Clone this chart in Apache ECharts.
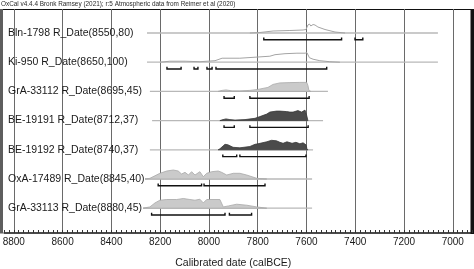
<!DOCTYPE html>
<html lang="en">
<head>
<meta charset="UTF-8">
<title>OxCal multiplot</title>
<script src="https://cdn.jsdelivr.net/npm/echarts@6/dist/echarts.min.js"></script>
<style>html,body{margin:0;padding:0;background:#fff;}</style>
</head>
<body>
<div id="chart" style="width:474px;height:269px;"></div>
<script>
// sample labels, top to bottom
var labels = [
    'Bln-1798 R_Date(8550,80)',
    'Ki-950 R_Date(8650,100)',
    'GrA-33112 R_Date(8695,45)',
    'BE-19191 R_Date(8712,37)',
    'BE-19192 R_Date(8740,37)',
    'OxA-17489 R_Date(8845,40)',
    'GrA-33113 R_Date(8880,45)'
];

// calibrated distributions: [calBCE, relative probability]
var bln1798 = [[7832,0],[7791,0.05],[7737,0.2],[7668,0.25],[7614,0.3],[7602,0.35],[7594,0.8],[7588,0.9],[7582,0.7],[7573,0.85],[7565,0.8],[7553,0.6],[7524,0.35],[7483,0.1],[7442,0]];
var ki950 = [[8201,0],[8160,0.1],[8098,0.1],[8037,0.05],[7975,0.15],[7946,0.4],[7873,0.4],[7811,0.5],[7750,0.6],[7729,0.75],[7688,0.85],[7639,0.9],[7606,0.9],[7598,0.95],[7588,0.45],[7573,0.3],[7545,0.15],[7504,0.05],[7463,0]];
var gra33112 = [[7962,0],[7946,0.1],[7930,0.15],[7905,0.05],[7873,0.05],[7832,0.1],[7799,0.2],[7758,0.4],[7737,0.7],[7709,0.85],[7668,0.88],[7627,0.9],[7599,0.9],[7594,0.6],[7590,0.1],[7582,0]];
var be19191 = [[7955,0],[7942,0.1],[7930,0.17],[7914,0.1],[7893,0.05],[7852,0.1],[7811,0.23],[7791,0.4],[7763,0.65],[7750,0.85],[7723,0.95],[7709,0.95],[7681,0.9],[7668,0.85],[7655,0.85],[7635,1.0],[7620,0.85],[7606,1.05],[7599,0.5],[7594,0]];
var be19192 = [[7962,0],[7955,0.1],[7934,0.55],[7922,0.5],[7901,0.25],[7873,0.2],[7832,0.33],[7811,0.55],[7799,0.6],[7763,0.8],[7743,0.95],[7723,0.9],[7709,0.75],[7696,0.65],[7680,0.8],[7659,0.65],[7643,0.75],[7627,0.6],[7614,0.7],[7602,0.5],[7598,0.1],[7594,0]];
var oxa17489 = [[8262,0],[8242,0.07],[8201,0.57],[8173,0.8],[8146,0.9],[8126,0.8],[8112,0.5],[8098,0.67],[8084,0.4],[8071,0.73],[8057,0.4],[8037,0.73],[8023,0.23],[8009,0.57],[7989,0.73],[7962,0.8],[7948,0.67],[7927,0.4],[7900,0.57],[7873,0.57],[7845,0.4],[7804,0.07],[7763,0]];
var gra33113 = [[8270,0],[8242,0.13],[8221,0.53],[8201,0.8],[8173,0.87],[8132,0.87],[8105,0.97],[8078,0.87],[8057,0.8],[8037,0.9],[8023,0.53],[8009,0.87],[7975,0.87],[7955,0.87],[7941,0.13],[7920,0.23],[7886,0.4],[7845,0.3],[7804,0.13],[7763,0]];
var curves = [bln1798, ki950, gra33112, be19191, be19192, oxa17489, gra33113];

// extent of the grey base line of each row
var spans = [[8254,7061],[8254,7061],[8242,7512],[8233,7532],[8242,7573],[8262,7577],[8270,7577]];

// 95.4% ranges under each row
var ranges = [
    [[7775,7456],[7401,7369]],
    [[8172,8114],[8061,8045],[8008,7987],[7971,7517]],
    [[7938,7896],[7832,7589]],
    [[7938,7896],[7832,7593]],
    [[7943,7886],[7873,7602]],
    [[8208,8030],[8020,7770]],
    [[8235,7934],[7916,7825]]
];

// axis
var xMin = 7000, xMax = 8800, xStep = 200, xMinor = 20;

var fills = [null, null, '#cacaca', '#4b4b4b', '#4b4b4b', '#cacaca', '#cacaca'];
var edges = [null, null, '#a8a8a8', '#3a3a3a', '#3a3a3a', '#a8a8a8', '#a8a8a8'];
var K = 0.3425;      // height of prob 1.0 in row units
var BR = 0.233;      // bracket offset below the base line

var pxPerYear = 439 / (xMax - xMin);
var tickMin = 6920, tickMax = 8840;

var rowData = labels.map(function (l, i) { return [spans[i][0], i]; });
var rangeData = [];
ranges.forEach(function (r, i) {
    r.forEach(function (s) { rangeData.push([s[0], s[1], i]); });
});

function renderRow(params, api) {
    var i = params.dataIndex;
    var a = api.coord([spans[i][0], i]);
    var b = api.coord([spans[i][1], i]);
    var pts = curves[i].map(function (p) { return api.coord([p[0], i - p[1] * K]); });
    var kids = [];
    kids.push({
        type: 'line',
        shape: {x1: a[0], y1: a[1], x2: b[0], y2: b[1]},
        style: {stroke: '#b8b8b8', lineWidth: 1.3}
    });
    if (fills[i]) {
        kids.push({type: 'polygon', shape: {points: pts},
            style: {fill: fills[i], stroke: edges[i], lineWidth: 0.8}});
    } else {
        kids.push({type: 'polyline', shape: {points: pts},
            style: {fill: null, stroke: '#a4a4a4', lineWidth: 1}});
    }
    kids.push({
        type: 'text',
        style: {x: 8, y: a[1], text: labels[i], fill: '#1a1a1a',
            font: '10.5px "Liberation Sans", Arial, sans-serif',
            verticalAlign: 'middle', align: 'left'}
    });
    return {type: 'group', children: kids};
}

function renderRange(params, api) {
    var a = api.coord([api.value(0), api.value(2) + BR]);
    var b = api.coord([api.value(1), api.value(2) + BR]);
    return {
        type: 'polyline',
        shape: {points: [[a[0], a[1] - 2.2], [a[0], a[1]], [b[0], b[1]], [b[0], b[1] - 2.2]]},
        style: {stroke: '#111', lineWidth: 1.4, fill: null}
    };
}

var chart = echarts.init(document.getElementById('chart'));
chart.setOption({
    animation: false,
    graphic: [
        {type: 'text', left: 1, top: 1, style: {text: 'OxCal v4.4.4 Bronk Ramsey (2021); r:5 Atmospheric data from Reimer et al (2020)',
            fill: '#2a2a2a', font: '6.4px "Liberation Sans", Arial, sans-serif'}},
        {type: 'line', shape: {x1: 0, y1: 9.5, x2: 474, y2: 9.5}, style: {stroke: '#111', lineWidth: 1}},
        {type: 'rect', shape: {x: 0, y: 9, width: 3, height: 224.5}, style: {fill: '#5e5e5e'}},
        {type: 'rect', shape: {x: 470.5, y: 9, width: 3.5, height: 225}, style: {fill: '#111'}}
    ],
    grid: [
        {left: 13.8 - (tickMax - xMax) * pxPerYear, width: (tickMax - tickMin) * pxPerYear, top: 9, height: 224, outerBoundsMode: 'none'},
        {left: 13.8, width: 439, top: 9, height: 224, outerBoundsMode: 'none'}
    ],
    xAxis: [
        {
            gridIndex: 0, type: 'value', inverse: true,
            min: tickMin, max: tickMax, interval: xMinor,
            axisLine: {show: true, lineStyle: {color: '#111', width: 1.5}},
            axisTick: {show: true, inside: true, length: 3, lineStyle: {color: '#333', width: 1}},
            axisLabel: {show: false},
            splitLine: {show: false}
        },
        {
            gridIndex: 1, type: 'value', inverse: true,
            min: xMin, max: xMax, interval: xStep,
            name: 'Calibrated date (calBCE)', nameLocation: 'middle', nameGap: 25,
            nameTextStyle: {color: '#1a1a1a', fontSize: 10.5, fontFamily: '"Liberation Sans", Arial, sans-serif'},
            axisLine: {show: false},
            axisTick: {show: false},
            axisLabel: {color: '#1a1a1a', fontSize: 10, margin: 4, fontFamily: '"Liberation Sans", Arial, sans-serif',
                formatter: function (v) { return String(v); }},
            splitLine: {show: true, lineStyle: {color: '#6a6a6a', width: 1}}
        }
    ],
    yAxis: [
        {gridIndex: 0, type: 'value', min: 0, max: 1, show: false},
        {gridIndex: 1, type: 'value', inverse: true, min: -0.822, max: 6.849, show: false}
    ],
    series: [
        {type: 'custom', xAxisIndex: 1, yAxisIndex: 1, clip: false, data: rowData, renderItem: renderRow, silent: true},
        {type: 'custom', xAxisIndex: 1, yAxisIndex: 1, clip: false, data: rangeData, renderItem: renderRange, silent: true,
            encode: {x: [0, 1], y: 2}}
    ]
});
</script>
</body>
</html>
